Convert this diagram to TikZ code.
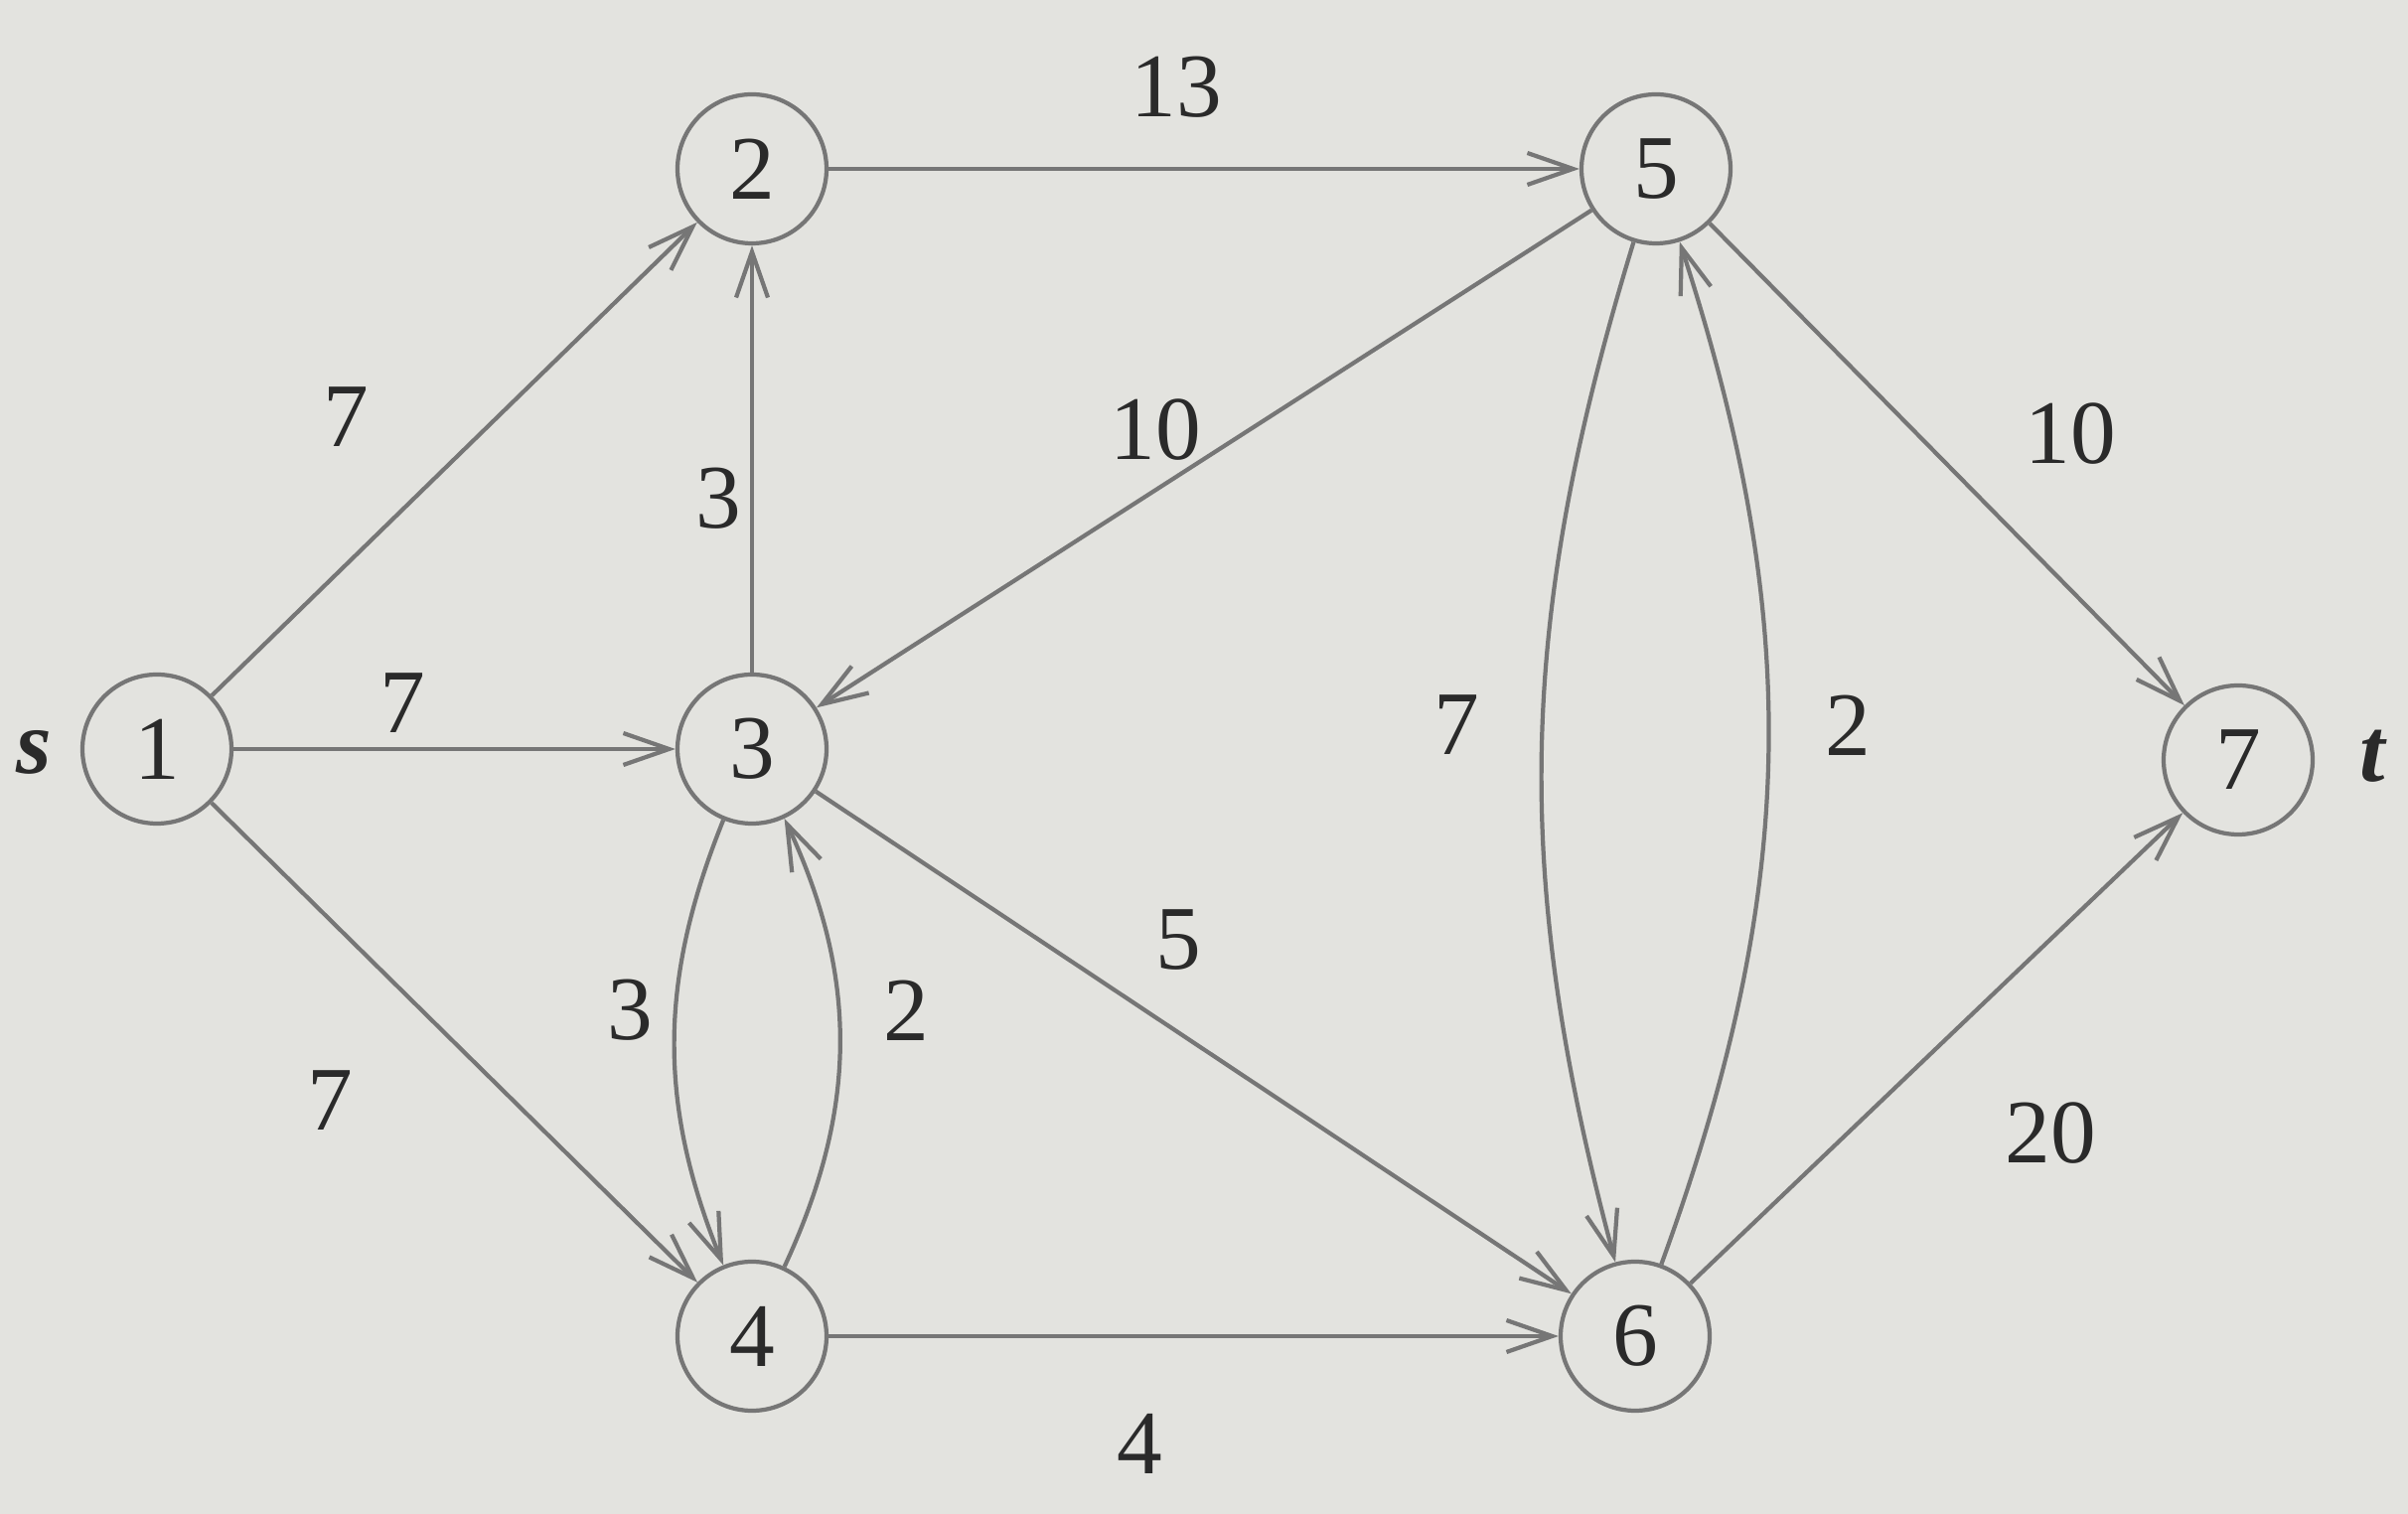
\documentclass[tikz,border=0pt]{standalone}
\usepackage{fontspec}
\setmainfont{Liberation Serif}
\usetikzlibrary{arrows.meta}
\definecolor{bg}{HTML}{E3E3DF}
\definecolor{ln}{HTML}{767676}
\definecolor{tx}{HTML}{2A2A2A}
\begin{document}
\begin{tikzpicture}[
  vtx/.style={circle,draw=ln,line width=1.2pt,minimum size=1.5cm,inner sep=0pt,text=tx,font=\fontsize{26}{28}\selectfont},
  lbl/.style={text=tx,font=\fontsize{26}{28}\selectfont,inner sep=0pt},
  edge/.style={draw=ln,line width=1.2pt,-{Straight Barb[length=4.6mm,width=3.2mm,line width=1.2pt]}}
]
\fill[bg] (0,0) rectangle (24.24,15.24);
\useasboundingbox (0,0) rectangle (24.24,15.24);
\node[vtx] (n1) at (1.58,7.70) {1};
\node[vtx] (n2) at (7.57,13.54) {2};
\node[vtx] (n3) at (7.57,7.70) {3};
\node[vtx] (n4) at (7.57,1.79) {4};
\node[vtx] (n5) at (16.67,13.54) {5};
\node[vtx] (n6) at (16.46,1.79) {6};
\node[vtx] (n7) at (22.53,7.59) {7};
\node[lbl,font=\fontsize{26}{28}\selectfont\bfseries\itshape] (s) at (0.34,7.67) {s};
\node[lbl,font=\fontsize{26}{28}\selectfont\bfseries\itshape] (t) at (23.88,7.63) {t};
\draw[edge] (n1) -- (n2);
\draw[edge] (n1) -- (n3);
\draw[edge] (n1) -- (n4);
\draw[edge] (n2) -- (n5);
\draw[edge] (n3) -- (n2);
\draw[edge] (n5) -- (n3);
\draw[edge] (n5) -- (n7);
\draw[edge] (n3) to[bend right=22] (n4);
\draw[edge] (n4) to[bend right=25] (n3);
\draw[edge] (n3) -- (n6);
\draw[edge] (n4) -- (n6);
\draw[edge] (n5) to[bend right=16] (n6);
\draw[edge] (n6) to[bend right=19] (n5);
\draw[edge] (n6) -- (n7);
\node[lbl] (l25) at (11.84,14.36) {13};
\node[lbl] (l12) at (3.48,11.04) {7};
\node[lbl] (l13) at (4.05,8.16) {7};
\node[lbl] (l14) at (3.32,4.16) {7};
\node[lbl] (l32) at (7.23,10.22) {3};
\node[lbl] (l53) at (11.63,10.91) {10};
\node[lbl] (l57) at (20.84,10.87) {10};
\node[lbl] (l34) at (6.34,5.07) {3};
\node[lbl] (l43) at (9.12,5.07) {2};
\node[lbl] (l36) at (11.86,5.78) {5};
\node[lbl] (l56) at (14.66,7.94) {7};
\node[lbl] (l65) at (18.60,7.94) {2};
\node[lbl] (l67) at (20.64,3.83) {20};
\node[lbl] (l46) at (11.47,0.71) {4};
\end{tikzpicture}
\end{document}
